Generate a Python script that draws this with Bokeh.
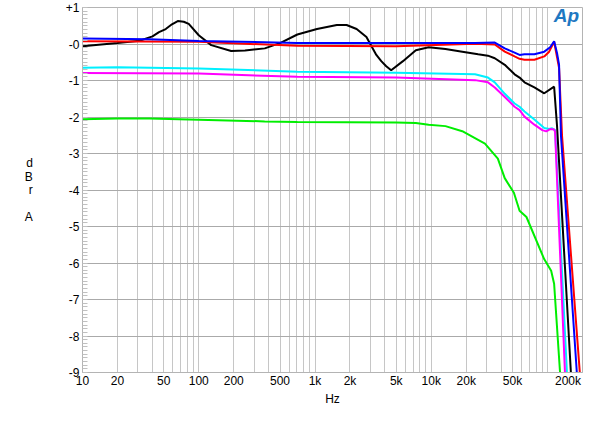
from bokeh.plotting import figure
from bokeh.models import FixedTicker, Label, Range1d
from bokeh.embed import file_html
from bokeh.resources import INLINE

# ---- data ----
freq_blue = [10, 37.5, 100, 705, 4990, 23800, 35200, 42900, 52100, 57500, 63400, 77100, 93800, 105400, 114000, 120800, 125700, 130600, 178700]
db_blue = [0.15, 0.13, 0.085, 0.03, 0.027, 0.03, 0.04, -0.12, -0.235, -0.30, -0.28, -0.28, -0.21, -0.09, 0.075, -0.25, -0.565, -2.52, -9.0]

freq_red = [10, 100, 705, 4990, 23800, 35200, 42900, 52100, 57500, 63400, 77100, 93800, 103300, 114000, 125700, 133400, 189600]
db_red = [0.075, 0.06, -0.05, -0.06, 0.005, -0.013, -0.21, -0.34, -0.405, -0.43, -0.43, -0.34, -0.21, 0.06, -0.65, -2.52, -9.0]

freq_black = [10, 20, 31, 40, 45.5, 52, 58.8, 66, 74.3, 82, 100, 128, 190, 250, 370, 505, 705, 1040, 1540, 1870, 2280, 2770, 3370, 3715, 4100, 4520, 5710, 7370, 9500, 13250, 18500, 25300, 30700, 35200, 42900, 52100, 57500, 63400, 77100, 93800, 114000, 120800, 158900]
db_black = [-0.06, 0.03, 0.09, 0.21, 0.325, 0.41, 0.54, 0.63, 0.61, 0.55, 0.24, -0.03, -0.19, -0.18, -0.12, 0.03, 0.26, 0.41, 0.52, 0.52, 0.41, 0.19, -0.30, -0.47, -0.61, -0.72, -0.47, -0.17, -0.09, -0.14, -0.21, -0.28, -0.32, -0.39, -0.57, -0.83, -0.92, -1.05, -1.19, -1.35, -1.17, -2.25, -9.0]

freq_cyan = [10, 20, 100, 705, 4990, 23800, 30750, 35200, 42900, 52100, 57500, 63400, 77100, 93800, 103300, 109600, 116200, 146900]
db_cyan = [-0.65, -0.635, -0.67, -0.76, -0.79, -0.83, -0.92, -1.05, -1.365, -1.63, -1.72, -1.85, -2.07, -2.30, -2.33, -2.31, -2.36, -9.0]

freq_magenta = [10, 100, 705, 4990, 23800, 30750, 35200, 42900, 52100, 57500, 63400, 77100, 90200, 97500, 105400, 114000, 116200, 141300]
db_magenta = [-0.795, -0.81, -0.90, -0.92, -0.99, -1.05, -1.19, -1.45, -1.72, -1.81, -1.99, -2.21, -2.36, -2.395, -2.33, -2.34, -2.41, -9.0]

freq_green = [10, 20, 37.5, 100, 369, 705, 4990, 7370, 9500, 13250, 18480, 28970, 37400, 42860, 51400, 57500, 65900, 93800, 107500, 114000, 128200]
db_green = [-2.06, -2.04, -2.04, -2.075, -2.12, -2.14, -2.15, -2.165, -2.21, -2.25, -2.39, -2.73, -3.14, -3.675, -4.075, -4.57, -4.74, -5.90, -6.21, -6.57, -9.0]

x_tick_values = [10, 20, 50, 100, 200, 500, 1000, 2000, 5000, 10000, 20000, 50000, 150000]
x_tick_labels = ["10", "20", "50", "100", "200", "500", "1k", "2k", "5k", "10k", "20k", "50k", "200k"]
y_tick_values = [1, 0, -1, -2, -3, -4, -5, -6, -7, -8, -9]
y_tick_labels = ["+1", "-0", "-1", "-2", "-3", "-4", "-5", "-6", "-7", "-8", "-9"]

FONT = "Liberation Sans"

p = figure(width=584, height=408, x_axis_type="log",
           x_range=Range1d(10, 200000), y_range=Range1d(-9, 1),
           output_backend="svg", toolbar_location=None,
           min_border_left=82, min_border_right=2, min_border_top=7, min_border_bottom=20)
p.background_fill_color = "white"
p.border_fill_color = "white"
p.outline_line_color = "#b4b4b4"

# grid
grid_x = [m * 10 ** e for e in range(1, 6) for m in range(1, 10) if m * 10 ** e <= 200000]
p.xgrid.ticker = FixedTicker(ticks=grid_x)
p.xgrid.grid_line_color = "#c6c6c6"
p.ygrid.ticker = FixedTicker(ticks=y_tick_values)
p.ygrid.grid_line_color = "#aaaaaa"

# x axis
p.xaxis.ticker = FixedTicker(ticks=x_tick_values)
p.xaxis.major_label_overrides = {v: t for v, t in zip(x_tick_values, x_tick_labels)}
p.xaxis.major_tick_line_color = None
p.xaxis.minor_tick_line_color = None
p.xaxis.major_tick_in = 0
p.xaxis.major_tick_out = 0
p.xaxis.minor_tick_in = 0
p.xaxis.minor_tick_out = 0
p.xaxis.axis_line_color = "#b4b4b4"
p.xaxis.major_label_standoff = 1
p.xaxis.major_label_text_font = FONT
p.xaxis.major_label_text_font_size = "12px"
p.xaxis.major_label_text_color = "black"
p.xaxis.major_label_text_line_height = 0.9
p.xaxis.axis_label = "Hz"
p.xaxis.axis_label_standoff = 1
p.xaxis.axis_label_text_font = FONT
p.xaxis.axis_label_text_font_size = "12px"
p.xaxis.axis_label_text_font_style = "normal"
p.xaxis.axis_label_text_color = "black"
p.xaxis.axis_label_text_line_height = 0.9

# y axis
minor_y = [round(-9 + 0.1 * k, 2) for k in range(0, 101)]
p.yaxis.ticker = FixedTicker(ticks=y_tick_values, minor_ticks=minor_y)
p.yaxis.major_label_overrides = {v: t for v, t in zip(y_tick_values, y_tick_labels)}
p.yaxis.major_tick_line_color = None
p.yaxis.major_tick_in = 0
p.yaxis.major_tick_out = 0
p.yaxis.minor_tick_line_color = "#c0c0c0"
p.yaxis.minor_tick_in = 5
p.yaxis.minor_tick_out = 0
p.yaxis.axis_line_color = "#b4b4b4"
p.yaxis.major_label_standoff = 3
p.yaxis.major_label_text_font = FONT
p.yaxis.major_label_text_font_size = "12px"
p.yaxis.major_label_text_color = "black"
p.yaxis.axis_label = "d\nB\nr\n\nA"
p.yaxis.axis_label_orientation = "horizontal"
p.yaxis.axis_label_standoff = 30
p.yaxis.axis_label_text_font = FONT
p.yaxis.axis_label_text_font_size = "12px"
p.yaxis.axis_label_text_font_style = "normal"
p.yaxis.axis_label_text_color = "black"
p.yaxis.axis_label_text_line_height = 0.96

# curves
lw = 2
p.line(freq_green, db_green, line_color="#00ee00", line_width=lw)
p.line(freq_cyan, db_cyan, line_color="#00f0ff", line_width=lw)
p.line(freq_magenta, db_magenta, line_color="#ff00ff", line_width=lw)
p.line(freq_black, db_black, line_color="black", line_width=lw)
p.line(freq_red, db_red, line_color="#ff0000", line_width=lw)
p.line(freq_blue, db_blue, line_color="#0000ff", line_width=lw)

# AP logo
p.add_layout(Label(x=484, y=357, x_units="screen", y_units="screen", text="Ap",
                   text_align="center", text_baseline="middle",
                   text_font=FONT, text_font_size="19px", text_font_style="bold italic",
                   text_color="#1e78c2"))

open("out.html", "w").write(file_html(p, INLINE))
